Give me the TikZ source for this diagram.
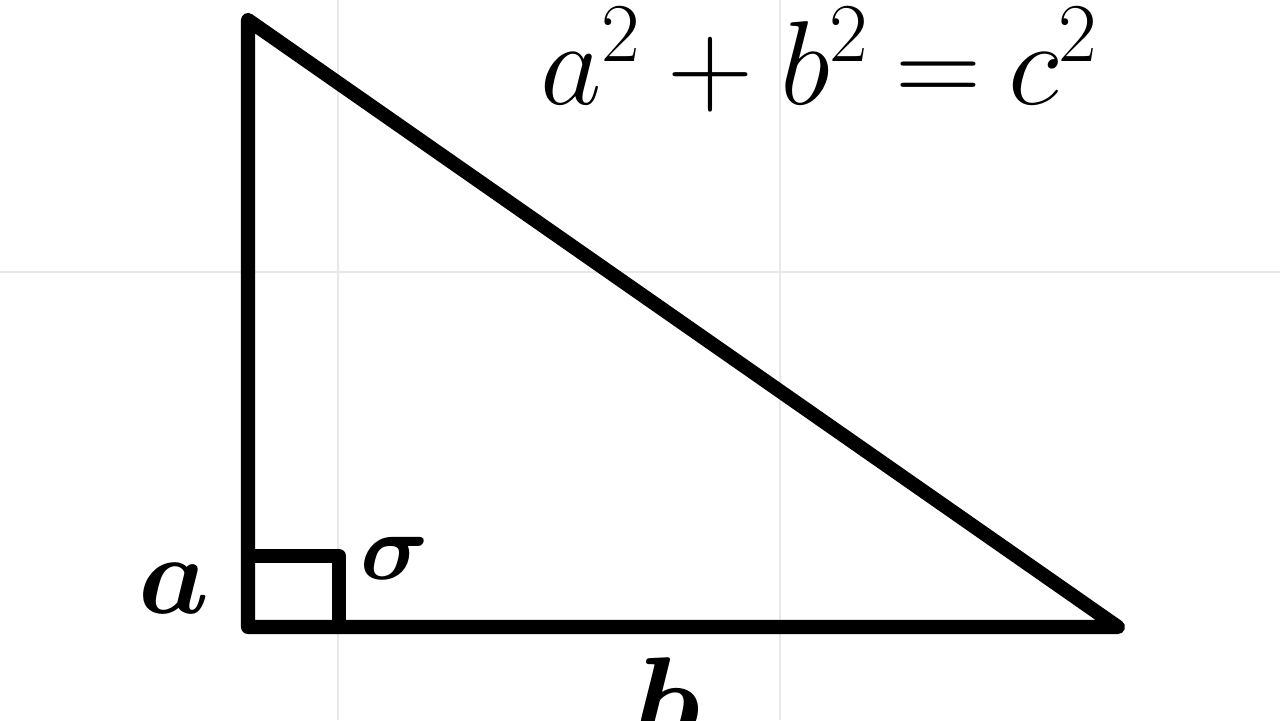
\RequirePackage{fix-cm}
\documentclass[tikz,border=0pt]{standalone}
\usepackage{bm}
\begin{document}
\begin{tikzpicture}[
  gridline/.style={draw=black!9, line width=1.2pt},
  edge/.style={line width=8pt, line join=round, line cap=round},
  biglabel/.style={font=\fontsize{#1}{#1}\selectfont},
  biglabel/.default=64,
  formula/.style={font=\fontsize{68}{68}\selectfont}
]

% Frame
\useasboundingbox ( 0, 0 ) rectangle ( 25.6, 14.4 );
\fill [white] ( 0, 0 ) rectangle ( 25.6, 14.4 );

% Faint grid
\draw [gridline] ( 6.76, 0 ) -- ++( 0, 14.4 );
\draw [gridline] ( 15.6, 0 ) -- ++( 0, 14.4 );
\draw [gridline] ( 0, 8.96 ) -- ++( 25.6, 0 );

% Triangle
\coordinate (top) at ( 4.96, 14.0 );
\coordinate (corner) at ( 4.96, 1.86 );
\coordinate (tip) at ( 22.36, 1.86 );
\draw [edge] (top) -- (corner) -- (tip) -- cycle;

% Right angle mark
\draw [edge, line cap=butt] (corner) ++( 0, 1.42 ) -| ++( 1.82, -1.42 );

% Labels
\node (la) at ( 3.48, 2.62 ) [biglabel] {$\bm{a}$};
\node (lsigma) at ( 7.9, 3.24 ) [biglabel=54] {$\bm{\sigma}$};
\node (lb) at ( 13.34, -0.5 ) [biglabel=72, anchor=base] {$\bm{b}$};

\node (law) at ( 16.38, 12.3 ) [formula, anchor=base] {$a^{2}\:{+}\:b^{2}\:{=}\:c^{2}$};

\end{tikzpicture}
\end{document}
